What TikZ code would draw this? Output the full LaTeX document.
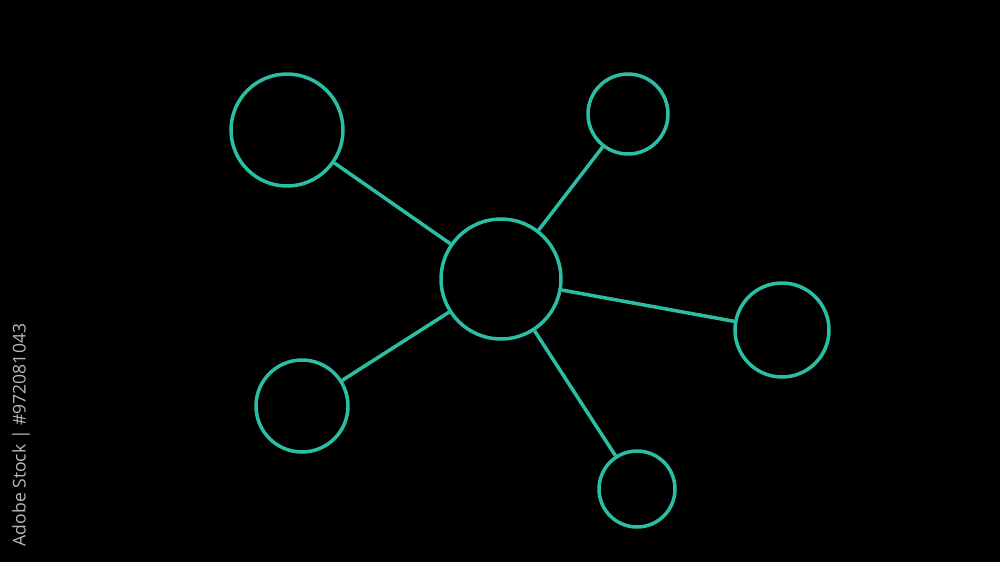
\documentclass[tikz,border=0pt]{standalone}
\usepackage{fontspec}
\setsansfont{Open Sans}
\definecolor{tealline}{RGB}{44,190,163}
\definecolor{wmgray}{RGB}{185,185,185}
\begin{document}
\begin{tikzpicture}[x=0.02cm,y=-0.02cm,
  hub/.style={circle,draw=tealline,line width=2pt,inner sep=0pt,minimum size=#1*0.04cm},
  link/.style={draw=tealline,line width=2pt}]
\fill[black] (0,0) rectangle (1000,562);
\useasboundingbox (0,0) rectangle (1000,562);
\node[hub=60] (c) at (501,279) {};
\node[hub=56] (tl) at (287,130) {};
\node[hub=40] (tr) at (628,114) {};
\node[hub=47] (r) at (782,330) {};
\node[hub=38] (br) at (637,489) {};
\node[hub=46] (bl) at (302,406) {};
\draw[link] (c) -- (tl);
\draw[link] (c) -- (tr);
\draw[link] (c) -- (r);
\draw[link] (c) -- (br);
\draw[link] (c) -- (bl);
\node[rotate=90,text=wmgray,font=\sffamily\fontsize{10}{12}\selectfont,inner sep=0pt] (wm) at (21,435) {Adobe Stock | \#972081043};
\end{tikzpicture}
\end{document}
